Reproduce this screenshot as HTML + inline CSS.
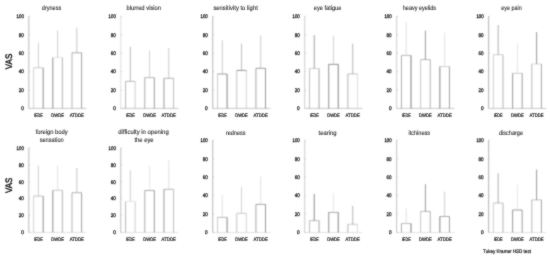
<!DOCTYPE html>
<html><head><meta charset="utf-8"><style>
html,body{margin:0;padding:0;background:#fff;}
body{width:550px;height:257px;overflow:hidden;}
svg{display:block;font-family:"Liberation Sans",sans-serif;text-rendering:geometricPrecision;}
line{stroke-width:0.7;}
.tk{stroke:#c8c8c8;}
.t{font-size:6.4px;fill:#1a1a1a;stroke:#1a1a1a;stroke-width:0.07;text-anchor:middle;}
.n{font-size:5.2px;fill:#1a1a1a;stroke:#1a1a1a;stroke-width:0.26;text-anchor:end;}
.l{font-size:5.0px;fill:#1a1a1a;stroke:#1a1a1a;stroke-width:0.24;text-anchor:middle;}
.v{font-size:9.4px;fill:#111;stroke:#111;stroke-width:0.4;text-anchor:middle;}
.ft{font-size:5.2px;fill:#1a1a1a;stroke:#1a1a1a;stroke-width:0.2;text-anchor:middle;}
</style></head><body>
<svg width="550" height="257" viewBox="0 0 550 257">
<defs><filter id="tb" x="0" y="0" width="550" height="257" filterUnits="userSpaceOnUse"><feConvolveMatrix order="3" kernelMatrix="1 2 1 2 20 2 1 2 1" edgeMode="duplicate"/></filter><filter id="b" x="0" y="0" width="550" height="257" filterUnits="userSpaceOnUse"><feConvolveMatrix order="3" kernelMatrix="1 2 1 2 8 2 1 2 1" edgeMode="duplicate"/></filter></defs>
<g filter="url(#b)">
<rect width="550" height="257" fill="#fff"/>
<line x1="28.80" y1="16.40" x2="28.80" y2="108.40" stroke="#9b9b9b"/>
<line x1="28.80" y1="108.40" x2="86.40" y2="108.40" stroke="#ababab"/>
<line x1="33.60" y1="67.70" x2="33.60" y2="108.40" stroke="#bebebe"/>
<line x1="43.20" y1="67.70" x2="43.20" y2="108.40" stroke="#4f4f4f"/>
<line x1="33.60" y1="67.70" x2="43.20" y2="67.70" stroke="#b3b3b3"/>
<line x1="38.40" y1="42.50" x2="38.40" y2="67.70" stroke="#b7b7b7"/>
<line x1="52.80" y1="57.50" x2="52.80" y2="108.40" stroke="#505050"/>
<line x1="62.40" y1="57.50" x2="62.40" y2="108.40" stroke="#888888"/>
<line x1="52.80" y1="57.50" x2="62.40" y2="57.50" stroke="#dbdbdb"/>
<line x1="57.60" y1="30.40" x2="57.60" y2="57.50" stroke="#b7b7b7"/>
<line x1="72.00" y1="52.80" x2="72.00" y2="108.40" stroke="#909090"/>
<line x1="81.60" y1="52.80" x2="81.60" y2="108.40" stroke="#636363"/>
<line x1="72.00" y1="52.80" x2="81.60" y2="52.80" stroke="#878787"/>
<line x1="76.80" y1="27.60" x2="76.80" y2="52.80" stroke="#acacac"/>
<line x1="120.76" y1="16.40" x2="120.76" y2="108.40" stroke="#cecece"/>
<line x1="120.76" y1="108.40" x2="178.36" y2="108.40" stroke="#ababab"/>
<line x1="125.56" y1="81.40" x2="125.56" y2="108.40" stroke="#8b8b8b"/>
<line x1="135.16" y1="81.40" x2="135.16" y2="108.40" stroke="#b5b5b5"/>
<line x1="125.56" y1="81.40" x2="135.16" y2="81.40" stroke="#959595"/>
<line x1="130.36" y1="46.80" x2="130.36" y2="81.40" stroke="#949494"/>
<line x1="144.76" y1="77.60" x2="144.76" y2="108.40" stroke="#7d7d7d"/>
<line x1="154.36" y1="77.60" x2="154.36" y2="108.40" stroke="#606060"/>
<line x1="144.76" y1="77.60" x2="154.36" y2="77.60" stroke="#949494"/>
<line x1="149.56" y1="50.50" x2="149.56" y2="77.60" stroke="#bababa"/>
<line x1="163.96" y1="78.30" x2="163.96" y2="108.40" stroke="#676767"/>
<line x1="173.56" y1="78.30" x2="173.56" y2="108.40" stroke="#989898"/>
<line x1="163.96" y1="78.30" x2="173.56" y2="78.30" stroke="#8d8d8d"/>
<line x1="168.76" y1="48.00" x2="168.76" y2="78.30" stroke="#b0b0b0"/>
<line x1="212.72" y1="16.40" x2="212.72" y2="108.40" stroke="#929292"/>
<line x1="212.72" y1="108.40" x2="270.32" y2="108.40" stroke="#ababab"/>
<line x1="217.52" y1="74.00" x2="217.52" y2="108.40" stroke="#b0b0b0"/>
<line x1="227.12" y1="74.00" x2="227.12" y2="108.40" stroke="#434343"/>
<line x1="217.52" y1="74.00" x2="227.12" y2="74.00" stroke="#747474"/>
<line x1="222.32" y1="40.20" x2="222.32" y2="74.00" stroke="#b4b4b4"/>
<line x1="236.72" y1="70.40" x2="236.72" y2="108.40" stroke="#a6a6a6"/>
<line x1="246.32" y1="70.40" x2="246.32" y2="108.40" stroke="#bfbfbf"/>
<line x1="236.72" y1="70.40" x2="246.32" y2="70.40" stroke="#505050"/>
<line x1="241.52" y1="43.70" x2="241.52" y2="70.40" stroke="#9a9a9a"/>
<line x1="255.92" y1="68.30" x2="255.92" y2="108.40" stroke="#7c7c7c"/>
<line x1="265.52" y1="68.30" x2="265.52" y2="108.40" stroke="#484848"/>
<line x1="255.92" y1="68.30" x2="265.52" y2="68.30" stroke="#6d6d6d"/>
<line x1="260.72" y1="35.50" x2="260.72" y2="68.30" stroke="#b1b1b1"/>
<line x1="304.68" y1="16.40" x2="304.68" y2="108.40" stroke="#b3b3b3"/>
<line x1="304.68" y1="108.40" x2="362.28" y2="108.40" stroke="#ababab"/>
<line x1="309.48" y1="68.50" x2="309.48" y2="108.40" stroke="#9a9a9a"/>
<line x1="319.08" y1="68.50" x2="319.08" y2="108.40" stroke="#7a7a7a"/>
<line x1="309.48" y1="68.50" x2="319.08" y2="68.50" stroke="#bfbfbf"/>
<line x1="314.28" y1="35.00" x2="314.28" y2="68.50" stroke="#6a6a6a"/>
<line x1="328.68" y1="64.40" x2="328.68" y2="108.40" stroke="#4f4f4f"/>
<line x1="338.28" y1="64.40" x2="338.28" y2="108.40" stroke="#383838"/>
<line x1="328.68" y1="64.40" x2="338.28" y2="64.40" stroke="#515151"/>
<line x1="333.48" y1="35.50" x2="333.48" y2="64.40" stroke="#bababa"/>
<line x1="347.88" y1="73.90" x2="347.88" y2="108.40" stroke="#8e8e8e"/>
<line x1="357.48" y1="73.90" x2="357.48" y2="108.40" stroke="#cfcfcf"/>
<line x1="347.88" y1="73.90" x2="357.48" y2="73.90" stroke="#a6a6a6"/>
<line x1="352.68" y1="43.70" x2="352.68" y2="73.90" stroke="#919191"/>
<line x1="396.64" y1="16.40" x2="396.64" y2="108.40" stroke="#b4b4b4"/>
<line x1="396.64" y1="108.40" x2="454.24" y2="108.40" stroke="#ababab"/>
<line x1="401.44" y1="55.40" x2="401.44" y2="108.40" stroke="#7c7c7c"/>
<line x1="411.04" y1="55.40" x2="411.04" y2="108.40" stroke="#393939"/>
<line x1="401.44" y1="55.40" x2="411.04" y2="55.40" stroke="#949494"/>
<line x1="406.24" y1="22.20" x2="406.24" y2="55.40" stroke="#d3d3d3"/>
<line x1="420.64" y1="59.60" x2="420.64" y2="108.40" stroke="#aaaaaa"/>
<line x1="430.24" y1="59.60" x2="430.24" y2="108.40" stroke="#8a8a8a"/>
<line x1="420.64" y1="59.60" x2="430.24" y2="59.60" stroke="#969696"/>
<line x1="425.44" y1="30.60" x2="425.44" y2="59.60" stroke="#565656"/>
<line x1="439.84" y1="66.50" x2="439.84" y2="108.40" stroke="#3c3c3c"/>
<line x1="449.44" y1="66.50" x2="449.44" y2="108.40" stroke="#666666"/>
<line x1="439.84" y1="66.50" x2="449.44" y2="66.50" stroke="#bababa"/>
<line x1="444.64" y1="32.70" x2="444.64" y2="66.50" stroke="#d6d6d6"/>
<line x1="488.60" y1="16.40" x2="488.60" y2="108.40" stroke="#888888"/>
<line x1="488.60" y1="108.40" x2="546.20" y2="108.40" stroke="#ababab"/>
<line x1="493.40" y1="54.70" x2="493.40" y2="108.40" stroke="#b7b7b7"/>
<line x1="503.00" y1="54.70" x2="503.00" y2="108.40" stroke="#909090"/>
<line x1="493.40" y1="54.70" x2="503.00" y2="54.70" stroke="#b7b7b7"/>
<line x1="498.20" y1="25.00" x2="498.20" y2="54.70" stroke="#868686"/>
<line x1="512.60" y1="73.30" x2="512.60" y2="108.40" stroke="#535353"/>
<line x1="522.20" y1="73.30" x2="522.20" y2="108.40" stroke="#6a6a6a"/>
<line x1="512.60" y1="73.30" x2="522.20" y2="73.30" stroke="#b1b1b1"/>
<line x1="517.40" y1="44.40" x2="517.40" y2="73.30" stroke="#d9d9d9"/>
<line x1="531.80" y1="64.00" x2="531.80" y2="108.40" stroke="#939393"/>
<line x1="541.40" y1="64.00" x2="541.40" y2="108.40" stroke="#6f6f6f"/>
<line x1="531.80" y1="64.00" x2="541.40" y2="64.00" stroke="#c9c9c9"/>
<line x1="536.60" y1="32.00" x2="536.60" y2="64.00" stroke="#535353"/>
<line x1="28.80" y1="148.00" x2="28.80" y2="232.40" stroke="#9b9b9b"/>
<line x1="28.80" y1="232.40" x2="86.40" y2="232.40" stroke="#d4d4d4"/>
<line x1="33.60" y1="196.10" x2="33.60" y2="232.40" stroke="#bebebe"/>
<line x1="43.20" y1="196.10" x2="43.20" y2="232.40" stroke="#4f4f4f"/>
<line x1="33.60" y1="196.10" x2="43.20" y2="196.10" stroke="#a6a6a6"/>
<line x1="38.40" y1="165.60" x2="38.40" y2="196.10" stroke="#b7b7b7"/>
<line x1="52.80" y1="190.30" x2="52.80" y2="232.40" stroke="#505050"/>
<line x1="62.40" y1="190.30" x2="62.40" y2="232.40" stroke="#888888"/>
<line x1="52.80" y1="190.30" x2="62.40" y2="190.30" stroke="#b2b2b2"/>
<line x1="57.60" y1="164.90" x2="57.60" y2="190.30" stroke="#d9d9d9"/>
<line x1="72.00" y1="192.70" x2="72.00" y2="232.40" stroke="#909090"/>
<line x1="81.60" y1="192.70" x2="81.60" y2="232.40" stroke="#636363"/>
<line x1="72.00" y1="192.70" x2="81.60" y2="192.70" stroke="#8f8f8f"/>
<line x1="76.80" y1="167.90" x2="76.80" y2="192.70" stroke="#acacac"/>
<line x1="120.76" y1="148.00" x2="120.76" y2="232.40" stroke="#9c9c9c"/>
<line x1="120.76" y1="232.40" x2="178.36" y2="232.40" stroke="#d4d4d4"/>
<line x1="125.56" y1="201.50" x2="125.56" y2="232.40" stroke="#8b8b8b"/>
<line x1="135.16" y1="201.50" x2="135.16" y2="232.40" stroke="#b5b5b5"/>
<line x1="125.56" y1="201.50" x2="135.16" y2="201.50" stroke="#dddddd"/>
<line x1="130.36" y1="170.20" x2="130.36" y2="201.50" stroke="#b4b4b4"/>
<line x1="144.76" y1="190.50" x2="144.76" y2="232.40" stroke="#7d7d7d"/>
<line x1="154.36" y1="190.50" x2="154.36" y2="232.40" stroke="#606060"/>
<line x1="144.76" y1="190.50" x2="154.36" y2="190.50" stroke="#7a7a7a"/>
<line x1="149.56" y1="165.80" x2="149.56" y2="190.50" stroke="#dbdbdb"/>
<line x1="163.96" y1="189.30" x2="163.96" y2="232.40" stroke="#676767"/>
<line x1="173.56" y1="189.30" x2="173.56" y2="232.40" stroke="#989898"/>
<line x1="163.96" y1="189.30" x2="173.56" y2="189.30" stroke="#8e8e8e"/>
<line x1="168.76" y1="160.20" x2="168.76" y2="189.30" stroke="#d6d6d6"/>
<line x1="212.72" y1="140.30" x2="212.72" y2="232.50" stroke="#929292"/>
<line x1="212.72" y1="232.50" x2="270.32" y2="232.50" stroke="#d4d4d4"/>
<line x1="217.52" y1="217.40" x2="217.52" y2="232.50" stroke="#b0b0b0"/>
<line x1="227.12" y1="217.40" x2="227.12" y2="232.50" stroke="#434343"/>
<line x1="217.52" y1="217.40" x2="227.12" y2="217.40" stroke="#959595"/>
<line x1="222.32" y1="195.40" x2="222.32" y2="217.40" stroke="#d6d6d6"/>
<line x1="236.72" y1="213.30" x2="236.72" y2="232.50" stroke="#a6a6a6"/>
<line x1="246.32" y1="213.30" x2="246.32" y2="232.50" stroke="#bfbfbf"/>
<line x1="236.72" y1="213.30" x2="246.32" y2="213.30" stroke="#b2b2b2"/>
<line x1="241.52" y1="187.00" x2="241.52" y2="213.30" stroke="#bcbcbc"/>
<line x1="255.92" y1="204.40" x2="255.92" y2="232.50" stroke="#7c7c7c"/>
<line x1="265.52" y1="204.40" x2="265.52" y2="232.50" stroke="#484848"/>
<line x1="255.92" y1="204.40" x2="265.52" y2="204.40" stroke="#727272"/>
<line x1="260.72" y1="176.60" x2="260.72" y2="204.40" stroke="#d6d6d6"/>
<line x1="304.68" y1="140.30" x2="304.68" y2="232.50" stroke="#b3b3b3"/>
<line x1="304.68" y1="232.50" x2="362.28" y2="232.50" stroke="#d4d4d4"/>
<line x1="309.48" y1="220.60" x2="309.48" y2="232.50" stroke="#9a9a9a"/>
<line x1="319.08" y1="220.60" x2="319.08" y2="232.50" stroke="#7a7a7a"/>
<line x1="309.48" y1="220.60" x2="319.08" y2="220.60" stroke="#9f9f9f"/>
<line x1="314.28" y1="194.00" x2="314.28" y2="220.60" stroke="#484848"/>
<line x1="328.68" y1="212.40" x2="328.68" y2="232.50" stroke="#4f4f4f"/>
<line x1="338.28" y1="212.40" x2="338.28" y2="232.50" stroke="#383838"/>
<line x1="328.68" y1="212.40" x2="338.28" y2="212.40" stroke="#767676"/>
<line x1="333.48" y1="192.90" x2="333.48" y2="212.40" stroke="#dbdbdb"/>
<line x1="347.88" y1="224.30" x2="347.88" y2="232.50" stroke="#8e8e8e"/>
<line x1="357.48" y1="224.30" x2="357.48" y2="232.50" stroke="#cfcfcf"/>
<line x1="347.88" y1="224.30" x2="357.48" y2="224.30" stroke="#b2b2b2"/>
<line x1="352.68" y1="205.70" x2="352.68" y2="224.30" stroke="#919191"/>
<line x1="396.64" y1="140.30" x2="396.64" y2="232.50" stroke="#a3a3a3"/>
<line x1="396.64" y1="232.50" x2="454.24" y2="232.50" stroke="#d4d4d4"/>
<line x1="401.44" y1="223.50" x2="401.44" y2="232.50" stroke="#7c7c7c"/>
<line x1="411.04" y1="223.50" x2="411.04" y2="232.50" stroke="#393939"/>
<line x1="401.44" y1="223.50" x2="411.04" y2="223.50" stroke="#9a9a9a"/>
<line x1="406.24" y1="208.50" x2="406.24" y2="223.50" stroke="#d3d3d3"/>
<line x1="420.64" y1="211.40" x2="420.64" y2="232.50" stroke="#aaaaaa"/>
<line x1="430.24" y1="211.40" x2="430.24" y2="232.50" stroke="#8a8a8a"/>
<line x1="420.64" y1="211.40" x2="430.24" y2="211.40" stroke="#959595"/>
<line x1="425.44" y1="184.20" x2="425.44" y2="211.40" stroke="#565656"/>
<line x1="439.84" y1="216.50" x2="439.84" y2="232.50" stroke="#3c3c3c"/>
<line x1="449.44" y1="216.50" x2="449.44" y2="232.50" stroke="#666666"/>
<line x1="439.84" y1="216.50" x2="449.44" y2="216.50" stroke="#787878"/>
<line x1="444.64" y1="191.70" x2="444.64" y2="216.50" stroke="#b5b5b5"/>
<line x1="488.60" y1="140.30" x2="488.60" y2="232.50" stroke="#888888"/>
<line x1="488.60" y1="232.50" x2="546.20" y2="232.50" stroke="#d4d4d4"/>
<line x1="493.40" y1="203.00" x2="493.40" y2="232.50" stroke="#b7b7b7"/>
<line x1="503.00" y1="203.00" x2="503.00" y2="232.50" stroke="#909090"/>
<line x1="493.40" y1="203.00" x2="503.00" y2="203.00" stroke="#aaaaaa"/>
<line x1="498.20" y1="173.30" x2="498.20" y2="203.00" stroke="#868686"/>
<line x1="512.60" y1="210.00" x2="512.60" y2="232.50" stroke="#535353"/>
<line x1="522.20" y1="210.00" x2="522.20" y2="232.50" stroke="#6a6a6a"/>
<line x1="512.60" y1="210.00" x2="522.20" y2="210.00" stroke="#727272"/>
<line x1="517.40" y1="184.70" x2="517.40" y2="210.00" stroke="#d9d9d9"/>
<line x1="531.80" y1="199.90" x2="531.80" y2="232.50" stroke="#939393"/>
<line x1="541.40" y1="199.90" x2="541.40" y2="232.50" stroke="#6f6f6f"/>
<line x1="531.80" y1="199.90" x2="541.40" y2="199.90" stroke="#a6a6a6"/>
<line x1="536.60" y1="169.50" x2="536.60" y2="199.90" stroke="#535353"/>
<line x1="28.30" y1="108.40" x2="30.30" y2="108.40" class="tk"/>
<line x1="28.30" y1="90.00" x2="30.30" y2="90.00" class="tk"/>
<line x1="28.30" y1="71.60" x2="30.30" y2="71.60" class="tk"/>
<line x1="28.30" y1="53.20" x2="30.30" y2="53.20" class="tk"/>
<line x1="28.30" y1="34.80" x2="30.30" y2="34.80" class="tk"/>
<line x1="28.30" y1="16.40" x2="30.30" y2="16.40" class="tk"/>
<line x1="120.26" y1="108.40" x2="122.26" y2="108.40" class="tk"/>
<line x1="120.26" y1="90.00" x2="122.26" y2="90.00" class="tk"/>
<line x1="120.26" y1="71.60" x2="122.26" y2="71.60" class="tk"/>
<line x1="120.26" y1="53.20" x2="122.26" y2="53.20" class="tk"/>
<line x1="120.26" y1="34.80" x2="122.26" y2="34.80" class="tk"/>
<line x1="120.26" y1="16.40" x2="122.26" y2="16.40" class="tk"/>
<line x1="212.22" y1="108.40" x2="214.22" y2="108.40" class="tk"/>
<line x1="212.22" y1="90.00" x2="214.22" y2="90.00" class="tk"/>
<line x1="212.22" y1="71.60" x2="214.22" y2="71.60" class="tk"/>
<line x1="212.22" y1="53.20" x2="214.22" y2="53.20" class="tk"/>
<line x1="212.22" y1="34.80" x2="214.22" y2="34.80" class="tk"/>
<line x1="212.22" y1="16.40" x2="214.22" y2="16.40" class="tk"/>
<line x1="304.18" y1="108.40" x2="306.18" y2="108.40" class="tk"/>
<line x1="304.18" y1="90.00" x2="306.18" y2="90.00" class="tk"/>
<line x1="304.18" y1="71.60" x2="306.18" y2="71.60" class="tk"/>
<line x1="304.18" y1="53.20" x2="306.18" y2="53.20" class="tk"/>
<line x1="304.18" y1="34.80" x2="306.18" y2="34.80" class="tk"/>
<line x1="304.18" y1="16.40" x2="306.18" y2="16.40" class="tk"/>
<line x1="396.14" y1="108.40" x2="398.14" y2="108.40" class="tk"/>
<line x1="396.14" y1="90.00" x2="398.14" y2="90.00" class="tk"/>
<line x1="396.14" y1="71.60" x2="398.14" y2="71.60" class="tk"/>
<line x1="396.14" y1="53.20" x2="398.14" y2="53.20" class="tk"/>
<line x1="396.14" y1="34.80" x2="398.14" y2="34.80" class="tk"/>
<line x1="396.14" y1="16.40" x2="398.14" y2="16.40" class="tk"/>
<line x1="488.10" y1="108.40" x2="490.10" y2="108.40" class="tk"/>
<line x1="488.10" y1="90.00" x2="490.10" y2="90.00" class="tk"/>
<line x1="488.10" y1="71.60" x2="490.10" y2="71.60" class="tk"/>
<line x1="488.10" y1="53.20" x2="490.10" y2="53.20" class="tk"/>
<line x1="488.10" y1="34.80" x2="490.10" y2="34.80" class="tk"/>
<line x1="488.10" y1="16.40" x2="490.10" y2="16.40" class="tk"/>
<line x1="28.30" y1="232.40" x2="30.30" y2="232.40" class="tk"/>
<line x1="28.30" y1="215.52" x2="30.30" y2="215.52" class="tk"/>
<line x1="28.30" y1="198.64" x2="30.30" y2="198.64" class="tk"/>
<line x1="28.30" y1="181.76" x2="30.30" y2="181.76" class="tk"/>
<line x1="28.30" y1="164.88" x2="30.30" y2="164.88" class="tk"/>
<line x1="28.30" y1="148.00" x2="30.30" y2="148.00" class="tk"/>
<line x1="120.26" y1="232.40" x2="122.26" y2="232.40" class="tk"/>
<line x1="120.26" y1="215.52" x2="122.26" y2="215.52" class="tk"/>
<line x1="120.26" y1="198.64" x2="122.26" y2="198.64" class="tk"/>
<line x1="120.26" y1="181.76" x2="122.26" y2="181.76" class="tk"/>
<line x1="120.26" y1="164.88" x2="122.26" y2="164.88" class="tk"/>
<line x1="120.26" y1="148.00" x2="122.26" y2="148.00" class="tk"/>
<line x1="212.22" y1="232.50" x2="214.22" y2="232.50" class="tk"/>
<line x1="212.22" y1="214.06" x2="214.22" y2="214.06" class="tk"/>
<line x1="212.22" y1="195.62" x2="214.22" y2="195.62" class="tk"/>
<line x1="212.22" y1="177.18" x2="214.22" y2="177.18" class="tk"/>
<line x1="212.22" y1="158.74" x2="214.22" y2="158.74" class="tk"/>
<line x1="212.22" y1="140.30" x2="214.22" y2="140.30" class="tk"/>
<line x1="304.18" y1="232.50" x2="306.18" y2="232.50" class="tk"/>
<line x1="304.18" y1="214.06" x2="306.18" y2="214.06" class="tk"/>
<line x1="304.18" y1="195.62" x2="306.18" y2="195.62" class="tk"/>
<line x1="304.18" y1="177.18" x2="306.18" y2="177.18" class="tk"/>
<line x1="304.18" y1="158.74" x2="306.18" y2="158.74" class="tk"/>
<line x1="304.18" y1="140.30" x2="306.18" y2="140.30" class="tk"/>
<line x1="396.14" y1="232.50" x2="398.14" y2="232.50" class="tk"/>
<line x1="396.14" y1="214.06" x2="398.14" y2="214.06" class="tk"/>
<line x1="396.14" y1="195.62" x2="398.14" y2="195.62" class="tk"/>
<line x1="396.14" y1="177.18" x2="398.14" y2="177.18" class="tk"/>
<line x1="396.14" y1="158.74" x2="398.14" y2="158.74" class="tk"/>
<line x1="396.14" y1="140.30" x2="398.14" y2="140.30" class="tk"/>
<line x1="488.10" y1="232.50" x2="490.10" y2="232.50" class="tk"/>
<line x1="488.10" y1="214.06" x2="490.10" y2="214.06" class="tk"/>
<line x1="488.10" y1="195.62" x2="490.10" y2="195.62" class="tk"/>
<line x1="488.10" y1="177.18" x2="490.10" y2="177.18" class="tk"/>
<line x1="488.10" y1="158.74" x2="490.10" y2="158.74" class="tk"/>
<line x1="488.10" y1="140.30" x2="490.10" y2="140.30" class="tk"/>
</g>
<g filter="url(#tb)">
<text x="51.5" y="10.4" class="t" textLength="19.4" lengthAdjust="spacingAndGlyphs">dryness</text>
<text x="23.8" y="110.2" class="n" textLength="2.6" lengthAdjust="spacingAndGlyphs">0</text>
<text x="23.8" y="91.8" class="n" textLength="5.0" lengthAdjust="spacingAndGlyphs">20</text>
<text x="23.8" y="73.4" class="n" textLength="5.0" lengthAdjust="spacingAndGlyphs">40</text>
<text x="23.8" y="55.0" class="n" textLength="5.0" lengthAdjust="spacingAndGlyphs">60</text>
<text x="23.8" y="36.6" class="n" textLength="5.0" lengthAdjust="spacingAndGlyphs">80</text>
<text x="23.8" y="18.2" class="n" textLength="7.2" lengthAdjust="spacingAndGlyphs">100</text>
<text x="38.40" y="117.0" class="l" textLength="8.9" lengthAdjust="spacingAndGlyphs">IEDE</text>
<text x="57.60" y="117.0" class="l" textLength="12.7" lengthAdjust="spacingAndGlyphs">DWDE</text>
<text x="76.80" y="117.0" class="l" textLength="14.3" lengthAdjust="spacingAndGlyphs">ATDDE</text>
<text x="143.8" y="10.4" class="t" textLength="34.6" lengthAdjust="spacingAndGlyphs">blurred vision</text>
<text x="115.8" y="110.2" class="n" textLength="2.6" lengthAdjust="spacingAndGlyphs">0</text>
<text x="115.8" y="91.8" class="n" textLength="5.0" lengthAdjust="spacingAndGlyphs">20</text>
<text x="115.8" y="73.4" class="n" textLength="5.0" lengthAdjust="spacingAndGlyphs">40</text>
<text x="115.8" y="55.0" class="n" textLength="5.0" lengthAdjust="spacingAndGlyphs">60</text>
<text x="115.8" y="36.6" class="n" textLength="5.0" lengthAdjust="spacingAndGlyphs">80</text>
<text x="115.8" y="18.2" class="n" textLength="7.2" lengthAdjust="spacingAndGlyphs">100</text>
<text x="130.36" y="117.0" class="l" textLength="8.9" lengthAdjust="spacingAndGlyphs">IEDE</text>
<text x="149.56" y="117.0" class="l" textLength="12.7" lengthAdjust="spacingAndGlyphs">DWDE</text>
<text x="168.76" y="117.0" class="l" textLength="14.3" lengthAdjust="spacingAndGlyphs">ATDDE</text>
<text x="235.6" y="10.4" class="t" textLength="44.4" lengthAdjust="spacingAndGlyphs">sensitivity to light</text>
<text x="207.7" y="110.2" class="n" textLength="2.6" lengthAdjust="spacingAndGlyphs">0</text>
<text x="207.7" y="91.8" class="n" textLength="5.0" lengthAdjust="spacingAndGlyphs">20</text>
<text x="207.7" y="73.4" class="n" textLength="5.0" lengthAdjust="spacingAndGlyphs">40</text>
<text x="207.7" y="55.0" class="n" textLength="5.0" lengthAdjust="spacingAndGlyphs">60</text>
<text x="207.7" y="36.6" class="n" textLength="5.0" lengthAdjust="spacingAndGlyphs">80</text>
<text x="207.7" y="18.2" class="n" textLength="7.2" lengthAdjust="spacingAndGlyphs">100</text>
<text x="222.32" y="117.0" class="l" textLength="8.9" lengthAdjust="spacingAndGlyphs">IEDE</text>
<text x="241.52" y="117.0" class="l" textLength="12.7" lengthAdjust="spacingAndGlyphs">DWDE</text>
<text x="260.72" y="117.0" class="l" textLength="14.3" lengthAdjust="spacingAndGlyphs">ATDDE</text>
<text x="327.6" y="10.4" class="t" textLength="27.6" lengthAdjust="spacingAndGlyphs">eye fatigue</text>
<text x="299.7" y="110.2" class="n" textLength="2.6" lengthAdjust="spacingAndGlyphs">0</text>
<text x="299.7" y="91.8" class="n" textLength="5.0" lengthAdjust="spacingAndGlyphs">20</text>
<text x="299.7" y="73.4" class="n" textLength="5.0" lengthAdjust="spacingAndGlyphs">40</text>
<text x="299.7" y="55.0" class="n" textLength="5.0" lengthAdjust="spacingAndGlyphs">60</text>
<text x="299.7" y="36.6" class="n" textLength="5.0" lengthAdjust="spacingAndGlyphs">80</text>
<text x="299.7" y="18.2" class="n" textLength="7.2" lengthAdjust="spacingAndGlyphs">100</text>
<text x="314.28" y="117.0" class="l" textLength="8.9" lengthAdjust="spacingAndGlyphs">IEDE</text>
<text x="333.48" y="117.0" class="l" textLength="12.7" lengthAdjust="spacingAndGlyphs">DWDE</text>
<text x="352.68" y="117.0" class="l" textLength="14.3" lengthAdjust="spacingAndGlyphs">ATDDE</text>
<text x="419.4" y="10.4" class="t" textLength="33.2" lengthAdjust="spacingAndGlyphs">heavy eyelids</text>
<text x="391.6" y="110.2" class="n" textLength="2.6" lengthAdjust="spacingAndGlyphs">0</text>
<text x="391.6" y="91.8" class="n" textLength="5.0" lengthAdjust="spacingAndGlyphs">20</text>
<text x="391.6" y="73.4" class="n" textLength="5.0" lengthAdjust="spacingAndGlyphs">40</text>
<text x="391.6" y="55.0" class="n" textLength="5.0" lengthAdjust="spacingAndGlyphs">60</text>
<text x="391.6" y="36.6" class="n" textLength="5.0" lengthAdjust="spacingAndGlyphs">80</text>
<text x="391.6" y="18.2" class="n" textLength="7.2" lengthAdjust="spacingAndGlyphs">100</text>
<text x="406.24" y="117.0" class="l" textLength="8.9" lengthAdjust="spacingAndGlyphs">IEDE</text>
<text x="425.44" y="117.0" class="l" textLength="12.7" lengthAdjust="spacingAndGlyphs">DWDE</text>
<text x="444.64" y="117.0" class="l" textLength="14.3" lengthAdjust="spacingAndGlyphs">ATDDE</text>
<text x="511.5" y="10.4" class="t" textLength="20.3" lengthAdjust="spacingAndGlyphs">eye pain</text>
<text x="483.6" y="110.2" class="n" textLength="2.6" lengthAdjust="spacingAndGlyphs">0</text>
<text x="483.6" y="91.8" class="n" textLength="5.0" lengthAdjust="spacingAndGlyphs">20</text>
<text x="483.6" y="73.4" class="n" textLength="5.0" lengthAdjust="spacingAndGlyphs">40</text>
<text x="483.6" y="55.0" class="n" textLength="5.0" lengthAdjust="spacingAndGlyphs">60</text>
<text x="483.6" y="36.6" class="n" textLength="5.0" lengthAdjust="spacingAndGlyphs">80</text>
<text x="483.6" y="18.2" class="n" textLength="7.2" lengthAdjust="spacingAndGlyphs">100</text>
<text x="498.20" y="117.0" class="l" textLength="8.9" lengthAdjust="spacingAndGlyphs">IEDE</text>
<text x="517.40" y="117.0" class="l" textLength="12.7" lengthAdjust="spacingAndGlyphs">DWDE</text>
<text x="536.60" y="117.0" class="l" textLength="14.3" lengthAdjust="spacingAndGlyphs">ATDDE</text>
<text x="51.7" y="134.0" class="t" textLength="32.1" lengthAdjust="spacingAndGlyphs">foreign body</text>
<text x="51.7" y="141.9" class="t" textLength="24.1" lengthAdjust="spacingAndGlyphs">sensation</text>
<text x="23.8" y="234.2" class="n" textLength="2.6" lengthAdjust="spacingAndGlyphs">0</text>
<text x="23.8" y="217.3" class="n" textLength="5.0" lengthAdjust="spacingAndGlyphs">20</text>
<text x="23.8" y="200.4" class="n" textLength="5.0" lengthAdjust="spacingAndGlyphs">40</text>
<text x="23.8" y="183.6" class="n" textLength="5.0" lengthAdjust="spacingAndGlyphs">60</text>
<text x="23.8" y="166.7" class="n" textLength="5.0" lengthAdjust="spacingAndGlyphs">80</text>
<text x="23.8" y="149.8" class="n" textLength="7.2" lengthAdjust="spacingAndGlyphs">100</text>
<text x="38.40" y="241.0" class="l" textLength="8.9" lengthAdjust="spacingAndGlyphs">IEDE</text>
<text x="57.60" y="241.0" class="l" textLength="12.7" lengthAdjust="spacingAndGlyphs">DWDE</text>
<text x="76.80" y="241.0" class="l" textLength="14.3" lengthAdjust="spacingAndGlyphs">ATDDE</text>
<text x="143.5" y="134.0" class="t" textLength="50.4" lengthAdjust="spacingAndGlyphs">difficulty in opening</text>
<text x="144.0" y="141.9" class="t" textLength="19.2" lengthAdjust="spacingAndGlyphs">the eye</text>
<text x="115.8" y="234.2" class="n" textLength="2.6" lengthAdjust="spacingAndGlyphs">0</text>
<text x="115.8" y="217.3" class="n" textLength="5.0" lengthAdjust="spacingAndGlyphs">20</text>
<text x="115.8" y="200.4" class="n" textLength="5.0" lengthAdjust="spacingAndGlyphs">40</text>
<text x="115.8" y="183.6" class="n" textLength="5.0" lengthAdjust="spacingAndGlyphs">60</text>
<text x="115.8" y="166.7" class="n" textLength="5.0" lengthAdjust="spacingAndGlyphs">80</text>
<text x="115.8" y="149.8" class="n" textLength="7.2" lengthAdjust="spacingAndGlyphs">100</text>
<text x="130.36" y="241.0" class="l" textLength="8.9" lengthAdjust="spacingAndGlyphs">IEDE</text>
<text x="149.56" y="241.0" class="l" textLength="12.7" lengthAdjust="spacingAndGlyphs">DWDE</text>
<text x="168.76" y="241.0" class="l" textLength="14.3" lengthAdjust="spacingAndGlyphs">ATDDE</text>
<text x="235.7" y="134.5" class="t" textLength="19.6" lengthAdjust="spacingAndGlyphs">redness</text>
<text x="207.7" y="234.3" class="n" textLength="2.6" lengthAdjust="spacingAndGlyphs">0</text>
<text x="207.7" y="215.9" class="n" textLength="5.0" lengthAdjust="spacingAndGlyphs">20</text>
<text x="207.7" y="197.4" class="n" textLength="5.0" lengthAdjust="spacingAndGlyphs">40</text>
<text x="207.7" y="179.0" class="n" textLength="5.0" lengthAdjust="spacingAndGlyphs">60</text>
<text x="207.7" y="160.5" class="n" textLength="5.0" lengthAdjust="spacingAndGlyphs">80</text>
<text x="207.7" y="142.1" class="n" textLength="7.2" lengthAdjust="spacingAndGlyphs">100</text>
<text x="222.32" y="241.1" class="l" textLength="8.9" lengthAdjust="spacingAndGlyphs">IEDE</text>
<text x="241.52" y="241.1" class="l" textLength="12.7" lengthAdjust="spacingAndGlyphs">DWDE</text>
<text x="260.72" y="241.1" class="l" textLength="14.3" lengthAdjust="spacingAndGlyphs">ATDDE</text>
<text x="327.6" y="134.5" class="t" textLength="18" lengthAdjust="spacingAndGlyphs">tearing</text>
<text x="299.7" y="234.3" class="n" textLength="2.6" lengthAdjust="spacingAndGlyphs">0</text>
<text x="299.7" y="215.9" class="n" textLength="5.0" lengthAdjust="spacingAndGlyphs">20</text>
<text x="299.7" y="197.4" class="n" textLength="5.0" lengthAdjust="spacingAndGlyphs">40</text>
<text x="299.7" y="179.0" class="n" textLength="5.0" lengthAdjust="spacingAndGlyphs">60</text>
<text x="299.7" y="160.5" class="n" textLength="5.0" lengthAdjust="spacingAndGlyphs">80</text>
<text x="299.7" y="142.1" class="n" textLength="7.2" lengthAdjust="spacingAndGlyphs">100</text>
<text x="314.28" y="241.1" class="l" textLength="8.9" lengthAdjust="spacingAndGlyphs">IEDE</text>
<text x="333.48" y="241.1" class="l" textLength="12.7" lengthAdjust="spacingAndGlyphs">DWDE</text>
<text x="352.68" y="241.1" class="l" textLength="14.3" lengthAdjust="spacingAndGlyphs">ATDDE</text>
<text x="419.3" y="134.5" class="t" textLength="21.7" lengthAdjust="spacingAndGlyphs">itchiness</text>
<text x="391.6" y="234.3" class="n" textLength="2.6" lengthAdjust="spacingAndGlyphs">0</text>
<text x="391.6" y="215.9" class="n" textLength="5.0" lengthAdjust="spacingAndGlyphs">20</text>
<text x="391.6" y="197.4" class="n" textLength="5.0" lengthAdjust="spacingAndGlyphs">40</text>
<text x="391.6" y="179.0" class="n" textLength="5.0" lengthAdjust="spacingAndGlyphs">60</text>
<text x="391.6" y="160.5" class="n" textLength="5.0" lengthAdjust="spacingAndGlyphs">80</text>
<text x="391.6" y="142.1" class="n" textLength="7.2" lengthAdjust="spacingAndGlyphs">100</text>
<text x="406.24" y="241.1" class="l" textLength="8.9" lengthAdjust="spacingAndGlyphs">IEDE</text>
<text x="425.44" y="241.1" class="l" textLength="12.7" lengthAdjust="spacingAndGlyphs">DWDE</text>
<text x="444.64" y="241.1" class="l" textLength="14.3" lengthAdjust="spacingAndGlyphs">ATDDE</text>
<text x="511.0" y="134.5" class="t" textLength="24.1" lengthAdjust="spacingAndGlyphs">discharge</text>
<text x="483.6" y="234.3" class="n" textLength="2.6" lengthAdjust="spacingAndGlyphs">0</text>
<text x="483.6" y="215.9" class="n" textLength="5.0" lengthAdjust="spacingAndGlyphs">20</text>
<text x="483.6" y="197.4" class="n" textLength="5.0" lengthAdjust="spacingAndGlyphs">40</text>
<text x="483.6" y="179.0" class="n" textLength="5.0" lengthAdjust="spacingAndGlyphs">60</text>
<text x="483.6" y="160.5" class="n" textLength="5.0" lengthAdjust="spacingAndGlyphs">80</text>
<text x="483.6" y="142.1" class="n" textLength="7.2" lengthAdjust="spacingAndGlyphs">100</text>
<text x="498.20" y="241.1" class="l" textLength="8.9" lengthAdjust="spacingAndGlyphs">IEDE</text>
<text x="517.40" y="241.1" class="l" textLength="12.7" lengthAdjust="spacingAndGlyphs">DWDE</text>
<text x="536.60" y="241.1" class="l" textLength="14.3" lengthAdjust="spacingAndGlyphs">ATDDE</text>
<text x="0" y="0" class="v" transform="translate(11.6,61.5) rotate(-90)" textLength="15.4" lengthAdjust="spacingAndGlyphs">VAS</text>
<text x="0" y="0" class="v" transform="translate(11.6,185.4) rotate(-90)" textLength="15.2" lengthAdjust="spacingAndGlyphs">VAS</text>
<text x="507" y="252.5" class="ft" textLength="47.9" lengthAdjust="spacingAndGlyphs">Tukey Kramer HSD test</text>
</g>
</svg>
</body></html>
